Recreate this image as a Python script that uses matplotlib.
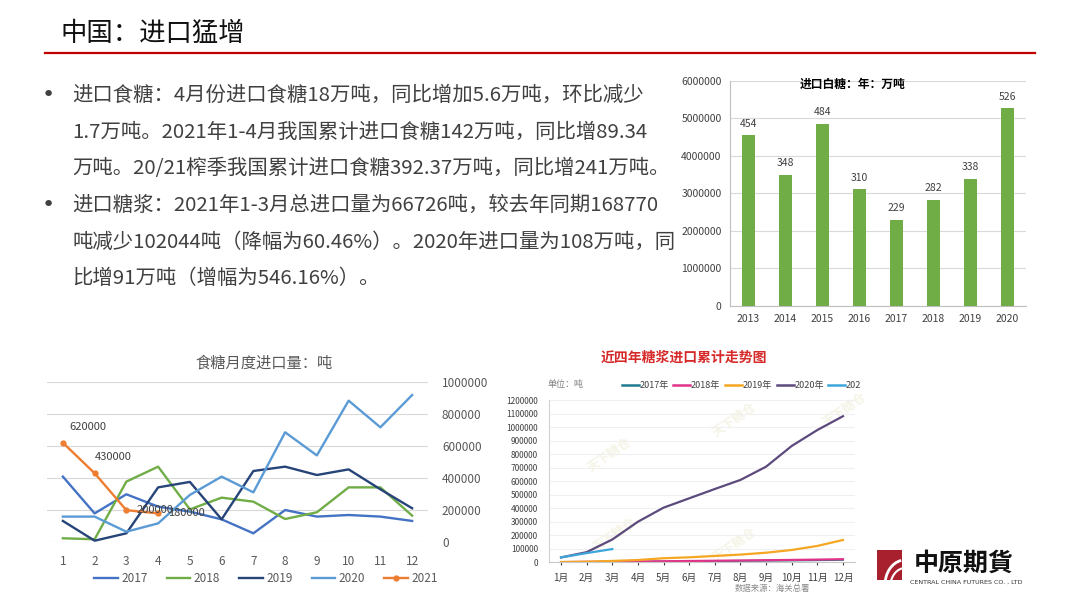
import matplotlib
matplotlib.use('Agg')
import matplotlib.pyplot as plt
from matplotlib.lines import Line2D
from matplotlib.patches import Rectangle, Arc

plt.rcParams['font.family'] = ['Noto Sans CJK SC', 'DejaVu Sans']

# ---------------- data ----------------
bar_years = ['2013', '2014', '2015', '2016', '2017', '2018', '2019', '2020']
bar_values = [454, 348, 484, 310, 229, 282, 338, 526]          # 万吨
bar_ticks = [0, 1000000, 2000000, 3000000, 4000000, 5000000, 6000000]

months = [1, 2, 3, 4, 5, 6, 7, 8, 9, 10, 11, 12]
sugar_2017 = [409000, 180000, 299000, 222000, 191000, 143000, 56000, 201000, 160000, 170000, 160000, 133000]
sugar_2018 = [25000, 19000, 378000, 471000, 205000, 278000, 253000, 145000, 187000, 342000, 342000, 166000]
sugar_2019 = [133000, 10000, 56000, 342000, 376000, 143000, 444000, 471000, 419000, 454000, 330000, 212000]
sugar_2020 = [160000, 160000, 66000, 118000, 295000, 409000, 311000, 685000, 541000, 882000, 716000, 917000]
sugar_2021 = [620000, 430000, 200000, 180000]
sugar_2021_labels = ['620000', '430000', '200000', '180000']
sugar_ticks = [0, 200000, 400000, 600000, 800000, 1000000]

syrup_months = ['1月', '2月', '3月', '4月', '5月', '6月', '7月', '8月', '9月', '10月', '11月', '12月']
syrup_2017 = [1000, 2000, 3000, 4500, 6000, 7500, 9000, 10500, 12000, 13500, 15500, 18000]
syrup_2018 = [1500, 3000, 4500, 6000, 7500, 9500, 11500, 13500, 15500, 17500, 20000, 23000]
syrup_2019 = [2000, 5000, 10000, 17000, 30000, 37000, 47000, 57000, 71000, 91000, 121000, 165000]
syrup_2020 = [36000, 75000, 168770, 300000, 404000, 473000, 542000, 609000, 707000, 860000, 978000, 1080000]
syrup_2021 = [36000, 68000, 98000]
syrup_ticks = [0, 100000, 200000, 300000, 400000, 500000, 600000, 700000,
               800000, 900000, 1000000, 1100000, 1200000]

bullet_lines = [
    '进口食糖：4月份进口食糖18万吨，同比增加5.6万吨，环比减少',
    '1.7万吨。2021年1-4月我国累计进口食糖142万吨，同比增89.34',
    '万吨。20/21榨季我国累计进口食糖392.37万吨，同比增241万吨。',
    '进口糖浆：2021年1-3月总进口量为66726吨，较去年同期168770',
    '吨减少102044吨（降幅为60.46%）。2020年进口量为108万吨，同',
    '比增91万吨（增幅为546.16%）。',
]

# ---------------- figure ----------------
W, H = 1080, 608
fig = plt.figure(figsize=(10.8, 6.08), dpi=100)
fig.patch.set_facecolor('white')

def fx(x):
    return x / W

def fy(y):
    return 1 - y / H

def axes_px(left, top, right, bottom):
    return fig.add_axes([fx(left), fy(bottom), (right - left) / W, (bottom - top) / H])

# header
fig.text(fx(60), fy(33), '中国：进口猛增', fontsize=19, ha='left', va='center', color='#111111')
fig.add_artist(Line2D([fx(45), fx(1035)], [fy(53), fy(53)], color='#C00000', lw=1.6,
                      transform=fig.transFigure))

# bullet text
line_y = [95, 132, 168, 205, 242, 278]
for i, (yy, t) in enumerate(zip(line_y, bullet_lines)):
    if i in (0, 3):
        fig.text(fx(48), fy(yy), '•', fontsize=16, ha='center', va='center', color='#404040',
                 family=['DejaVu Sans'])
    fig.text(fx(72), fy(yy), t, fontsize=14.7, ha='left', va='center', color='#404040')

# ---------------- bar chart ----------------
axb = axes_px(730, 80.7, 1026, 305.7)
xb = list(range(len(bar_years)))
hb = [v * 10000 for v in bar_values]
axb.bar(xb, hb, width=0.36, color='#70AD47', zorder=3)
for x, h, v in zip(xb, hb, bar_values):
    axb.annotate(str(v), (x, h), xytext=(0, 5), textcoords='offset points',
                 ha='center', va='bottom', fontsize=7.5, color='#404040')
axb.set_xlim(-0.5, len(bar_years) - 0.5)
axb.set_ylim(0, 6000000)
axb.set_yticks(bar_ticks)
axb.set_yticklabels([str(t) for t in bar_ticks])
axb.set_xticks(xb)
axb.set_xticklabels(bar_years)
axb.tick_params(axis='both', length=0, labelsize=7.5, colors='#404040', pad=6)
axb.grid(axis='y', color='#D9D9D9', lw=0.8, zorder=0)
for s in ('top', 'right'):
    axb.spines[s].set_visible(False)
axb.spines['left'].set_color('#BFBFBF')
axb.spines['bottom'].set_color('#BFBFBF')
axb.text(0.415, 0.985, '进口白糖：年：万吨', transform=axb.transAxes, ha='center', va='center',
         fontsize=8.5, fontweight='bold', color='black')

# ---------------- monthly sugar line chart ----------------
axl = axes_px(47, 381.7, 428, 542.3)
c17, c18, c19, c20, c21 = '#4472C4', '#70AD47', '#264478', '#5B9BD5', '#ED7D31'
axl.plot(months, sugar_2017, color=c17, lw=1.7, label='2017')
axl.plot(months, sugar_2018, color=c18, lw=1.7, label='2018')
axl.plot(months, sugar_2019, color=c19, lw=1.7, label='2019')
axl.plot(months, sugar_2020, color=c20, lw=1.7, label='2020')
axl.plot(months[:len(sugar_2021)], sugar_2021, color=c21, lw=1.7, marker='o', ms=3.5, label='2021')
offs = [(5, 8), (0, 8), (7, 0), (7, 0)]
for m, v, lab, o in zip(months, sugar_2021, sugar_2021_labels, offs):
    axl.annotate(lab, (m, v), xytext=o, textcoords='offset points', ha='left',
                 va='bottom' if o[1] > 0 else 'center', fontsize=8, color='#404040')
axl.set_xlim(0.5, 12.5)
axl.set_ylim(0, 1000000)
axl.set_xticks(months)
axl.set_yticks(sugar_ticks)
axl.set_yticklabels([str(t) for t in sugar_ticks])
axl.yaxis.tick_right()
axl.tick_params(axis='both', length=0, labelsize=8.5, colors='#595959')
axl.tick_params(axis='y', pad=10)
axl.tick_params(axis='x', pad=9)
axl.grid(axis='y', color='#D9D9D9', lw=0.8)
axl.set_axisbelow(True)
for s in axl.spines.values():
    s.set_visible(False)
fig.text(fx(264), fy(363), '食糖月度进口量：吨', fontsize=11, ha='center', va='center', color='#595959')
axl.legend(loc='center', bbox_to_anchor=(0.575, -0.225), ncol=5, frameon=False, fontsize=8.5,
           handlelength=2.0, handletextpad=0.3, columnspacing=1.6, labelcolor='#595959')

# ---------------- syrup cumulative chart ----------------
axs = axes_px(549, 400, 855, 562.3)
s_cols = ['#217A8E', '#E0338A', '#F5A623', '#5C4A7D', '#3DA5D9']
xs = list(range(1, 13))
axs.plot(xs, syrup_2017, color=s_cols[0], lw=1.4)
axs.plot(xs, syrup_2018, color=s_cols[1], lw=1.6)
axs.plot(xs, syrup_2019, color=s_cols[2], lw=1.6)
axs.plot(xs, syrup_2020, color=s_cols[3], lw=1.6)
axs.plot(xs[:len(syrup_2021)], syrup_2021, color=s_cols[4], lw=1.6)
axs.set_xlim(0.53, 12.47)
axs.set_ylim(0, 1200000)
axs.set_xticks(xs)
axs.set_xticklabels(syrup_months)
axs.set_yticks(syrup_ticks)
axs.set_yticklabels([str(t) for t in syrup_ticks])
axs.tick_params(axis='y', length=0, labelsize=6, colors='#404040', pad=8)
axs.tick_params(axis='x', length=2, labelsize=7, colors='#404040', pad=6)
axs.grid(axis='y', color='#F0F0F0', lw=0.8)
axs.set_axisbelow(True)
for s in ('top', 'right'):
    axs.spines[s].set_visible(False)
axs.spines['left'].set_color('#D0D0D0')
axs.spines['bottom'].set_color('#C8C8C8')
# faint watermarks, drawn beneath the lines
for (wx, wy) in [(610, 455), (735, 420), (845, 410), (615, 535), (735, 545)]:
    axs.text(fx(wx), fy(wy), '天下糖仓', fontsize=9, rotation=35, ha='center', va='center',
             color='#F5F4E6', fontweight='bold', zorder=0.5, transform=fig.transFigure,
             clip_on=False)
fig.text(fx(684), fy(358), '近四年糖浆进口累计走势图', fontsize=10, fontweight='bold',
         ha='center', va='center', color='#D62A2A')
fig.text(fx(548), fy(385), '单位：吨', fontsize=6.5, ha='left', va='center', color='#7F7F7F')
fig.text(fx(810), fy(588), '数据来源：海关总署', fontsize=6, ha='right', va='center',
         color='#8C8C8C', style='italic')

# legend row (clipped at right edge like the reference)
axleg = axes_px(600, 377, 860, 393)
axleg.set_xlim(600, 860)
axleg.set_ylim(0, 1)
axleg.axis('off')
leg_names = ['2017年', '2018年', '2019年', '2020年', '2021年']
leg_x = [622, 673, 725, 777, 828]
for lx, nm, col in zip(leg_x, leg_names, s_cols):
    axleg.plot([lx, lx + 17], [0.5, 0.5], color=col, lw=1.8, clip_on=True)
    axleg.text(lx + 18, 0.5, nm, fontsize=6.5, ha='left', va='center', color='#404040', clip_on=True)

# ---------------- logo ----------------
fig.add_artist(Rectangle((fx(877), fy(580)), 25 / W, 30 / H, transform=fig.transFigure,
                         facecolor='#A8202E', edgecolor='none'))
fig.add_artist(Arc((fx(905), fy(585)), 40 / W, 50 / H, theta1=95, theta2=180,
                   transform=fig.transFigure, color='white', lw=2))
fig.add_artist(Arc((fx(905), fy(588)), 30 / W, 40 / H, theta1=95, theta2=180,
                   transform=fig.transFigure, color='white', lw=1.5))
fig.text(fx(964), fy(564), '中原期貨', fontsize=18, fontweight='bold', ha='center', va='center',
         color='#111111')
fig.text(fx(966), fy(582), 'CENTRAL CHINA FUTURES CO. , LTD', fontsize=4.6, ha='center',
         va='center', color='#333333', family=['DejaVu Sans'])

fig.savefig('out.png', dpi=100, facecolor='white')
